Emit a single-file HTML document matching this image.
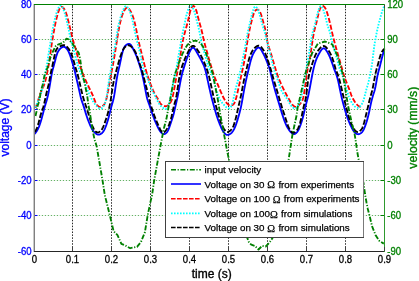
<!DOCTYPE html><html><head><meta charset="utf-8"><style>html,body{margin:0;padding:0;background:#fff;}svg{display:block}text{font-family:"Liberation Sans",Arial,sans-serif}</style></head><body>
<svg width="419" height="281" viewBox="0 0 419 281">
<rect x="0" y="0" width="419" height="281" fill="#fff"/>
<line x1="72.5" y1="5" x2="72.5" y2="251" stroke="#000" stroke-opacity="0.85" stroke-width="1" stroke-dasharray="1.5,1.43" stroke-dashoffset="-0.9"/><line x1="111.5" y1="5" x2="111.5" y2="251" stroke="#000" stroke-opacity="0.85" stroke-width="1" stroke-dasharray="1.5,1.43" stroke-dashoffset="-0.9"/><line x1="150.5" y1="5" x2="150.5" y2="251" stroke="#000" stroke-opacity="0.85" stroke-width="1" stroke-dasharray="1.5,1.43" stroke-dashoffset="-0.9"/><line x1="189.5" y1="5" x2="189.5" y2="251" stroke="#000" stroke-opacity="0.85" stroke-width="1" stroke-dasharray="1.5,1.43" stroke-dashoffset="-0.9"/><line x1="228.5" y1="5" x2="228.5" y2="251" stroke="#000" stroke-opacity="0.85" stroke-width="1" stroke-dasharray="1.5,1.43" stroke-dashoffset="-0.9"/><line x1="267.5" y1="5" x2="267.5" y2="251" stroke="#000" stroke-opacity="0.85" stroke-width="1" stroke-dasharray="1.5,1.43" stroke-dashoffset="-0.9"/><line x1="306.5" y1="5" x2="306.5" y2="251" stroke="#000" stroke-opacity="0.85" stroke-width="1" stroke-dasharray="1.5,1.43" stroke-dashoffset="-0.9"/><line x1="345.5" y1="5" x2="345.5" y2="251" stroke="#000" stroke-opacity="0.85" stroke-width="1" stroke-dasharray="1.5,1.43" stroke-dashoffset="-0.9"/><line x1="35" y1="39.5" x2="384" y2="39.5" stroke="#008000" stroke-opacity="0.6" stroke-width="1.1" stroke-dasharray="1.3,1.7" stroke-dashoffset="-0.8"/><line x1="35" y1="74.5" x2="384" y2="74.5" stroke="#008000" stroke-opacity="0.6" stroke-width="1.1" stroke-dasharray="1.3,1.7" stroke-dashoffset="-0.8"/><line x1="35" y1="109.5" x2="384" y2="109.5" stroke="#008000" stroke-opacity="0.6" stroke-width="1.1" stroke-dasharray="1.3,1.7" stroke-dashoffset="-0.8"/><line x1="35" y1="145.5" x2="384" y2="145.5" stroke="#008000" stroke-opacity="0.6" stroke-width="1.1" stroke-dasharray="1.3,1.7" stroke-dashoffset="-0.8"/><line x1="35" y1="180.5" x2="384" y2="180.5" stroke="#008000" stroke-opacity="0.6" stroke-width="1.1" stroke-dasharray="1.3,1.7" stroke-dashoffset="-0.8"/><line x1="35" y1="215.5" x2="384" y2="215.5" stroke="#008000" stroke-opacity="0.6" stroke-width="1.1" stroke-dasharray="1.3,1.7" stroke-dashoffset="-0.8"/>
<g fill="none" stroke-linejoin="round">
<path d="M34.30,134.20 L34.80,133.68 L35.30,133.12 L35.80,132.49 L36.30,131.79 L36.80,131.01 L37.30,130.15 L37.80,129.22 L38.30,128.20 L38.80,127.07 L39.30,125.84 L39.80,124.48 L40.30,123.01 L40.80,121.43 L41.30,119.76 L41.80,117.99 L42.30,116.13 L42.80,114.19 L43.30,112.20 L43.80,110.23 L44.30,108.33 L44.80,106.54 L45.30,104.87 L45.80,103.27 L46.30,101.66 L46.80,99.96 L47.30,98.10 L47.80,96.04 L48.30,93.75 L48.80,91.20 L49.30,88.40 L49.80,85.41 L50.30,82.32 L50.80,79.24 L51.30,76.31 L51.80,73.64 L52.30,71.28 L52.80,69.23 L53.30,67.39 L53.80,65.64 L54.30,63.85 L54.80,61.98 L55.30,60.02 L55.80,58.08 L56.30,56.25 L56.80,54.62 L57.30,53.24 L57.80,52.10 L58.30,51.15 L58.80,50.36 L59.30,49.68 L59.80,49.09 L60.30,48.58 L60.80,48.12 L61.30,47.72 L61.80,47.37 L62.30,47.08 L62.80,46.88 L63.30,46.76 L63.80,46.76 L64.30,46.86 L64.80,47.08 L65.30,47.39 L65.80,47.79 L66.30,48.27 L66.80,48.82 L67.30,49.46 L67.80,50.21 L68.30,51.10 L68.80,52.12 L69.30,53.27 L69.80,54.56 L70.30,55.96 L70.80,57.46 L71.30,59.07 L71.80,60.73 L72.30,62.41 L72.80,64.06 L73.30,65.70 L73.80,67.38 L74.30,69.20 L74.80,71.20 L75.30,73.35 L75.80,75.57 L76.30,77.75 L76.80,79.87 L77.30,81.95 L77.80,84.04 L78.30,86.20 L78.80,88.44 L79.30,90.76 L79.80,93.11 L80.30,95.37 L80.80,97.46 L81.30,99.30 L81.80,100.91 L82.30,102.35 L82.80,103.72 L83.30,105.13 L83.80,106.64 L84.30,108.27 L84.80,109.97 L85.30,111.69 L85.80,113.38 L86.30,115.00 L86.80,116.55 L87.30,118.02 L87.80,119.42 L88.30,120.76 L88.80,122.03 L89.30,123.25 L89.80,124.41 L90.30,125.53 L90.80,126.61 L91.30,127.64 L91.80,128.62 L92.30,129.53 L92.80,130.34 L93.30,131.04 L93.80,131.66 L94.30,132.19 L94.80,132.67 L95.30,133.10 L95.80,133.48 L96.30,133.83 L96.80,134.12 L97.30,134.35 L97.80,134.52 L98.30,134.61 L98.80,134.63 L99.30,134.57 L99.80,134.43 L100.30,134.21 L100.80,133.93 L101.30,133.60 L101.80,133.20 L102.30,132.74 L102.80,132.20 L103.30,131.56 L103.80,130.79 L104.30,129.88 L104.80,128.84 L105.30,127.68 L105.80,126.42 L106.30,125.07 L106.80,123.62 L107.30,122.08 L107.80,120.43 L108.30,118.68 L108.80,116.83 L109.30,114.90 L109.80,112.90 L110.30,110.87 L110.80,108.87 L111.30,106.97 L111.80,105.19 L112.30,103.49 L112.80,101.76 L113.30,99.84 L113.80,97.59 L114.30,94.94 L114.80,91.91 L115.30,88.61 L115.80,85.19 L116.30,81.84 L116.80,78.71 L117.30,75.88 L117.80,73.35 L118.30,71.06 L118.80,68.89 L119.30,66.72 L119.80,64.48 L120.30,62.14 L120.80,59.75 L121.30,57.38 L121.80,55.11 L122.30,53.03 L122.80,51.16 L123.30,49.56 L123.80,48.24 L124.30,47.20 L124.80,46.40 L125.30,45.79 L125.80,45.30 L126.30,44.90 L126.80,44.56 L127.30,44.28 L127.80,44.06 L128.30,43.91 L128.80,43.84 L129.30,43.88 L129.80,44.06 L130.30,44.40 L130.80,44.91 L131.30,45.57 L131.80,46.37 L132.30,47.27 L132.80,48.23 L133.30,49.24 L133.80,50.27 L134.30,51.31 L134.80,52.36 L135.30,53.45 L135.80,54.58 L136.30,55.76 L136.80,57.01 L137.30,58.33 L137.80,59.73 L138.30,61.19 L138.80,62.71 L139.30,64.25 L139.80,65.81 L140.30,67.38 L140.80,69.03 L141.30,70.79 L141.80,72.69 L142.30,74.76 L142.80,76.96 L143.30,79.27 L143.80,81.68 L144.30,84.18 L144.80,86.75 L145.30,89.38 L145.80,92.04 L146.30,94.60 L146.80,96.94 L147.30,98.93 L147.80,100.57 L148.30,101.97 L148.80,103.30 L149.30,104.67 L149.80,106.13 L150.30,107.66 L150.80,109.22 L151.30,110.75 L151.80,112.24 L152.30,113.69 L152.80,115.09 L153.30,116.46 L153.80,117.79 L154.30,119.09 L154.80,120.36 L155.30,121.58 L155.80,122.76 L156.30,123.89 L156.80,124.99 L157.30,126.06 L157.80,127.09 L158.30,128.08 L158.80,129.02 L159.30,129.90 L159.80,130.70 L160.30,131.42 L160.80,132.07 L161.30,132.64 L161.80,133.14 L162.30,133.56 L162.80,133.87 L163.30,134.06 L163.80,134.13 L164.30,134.08 L164.80,133.92 L165.30,133.66 L165.80,133.32 L166.30,132.89 L166.80,132.36 L167.30,131.70 L167.80,130.86 L168.30,129.84 L168.80,128.65 L169.30,127.32 L169.80,125.90 L170.30,124.44 L170.80,122.98 L171.30,121.51 L171.80,120.05 L172.30,118.54 L172.80,116.96 L173.30,115.26 L173.80,113.39 L174.30,111.35 L174.80,109.16 L175.30,106.92 L175.80,104.71 L176.30,102.56 L176.80,100.41 L177.30,98.17 L177.80,95.78 L178.30,93.21 L178.80,90.49 L179.30,87.69 L179.80,84.88 L180.30,82.15 L180.80,79.57 L181.30,77.19 L181.80,75.04 L182.30,73.10 L182.80,71.31 L183.30,69.63 L183.80,67.98 L184.30,66.36 L184.80,64.76 L185.30,63.18 L185.80,61.65 L186.30,60.17 L186.80,58.75 L187.30,57.42 L187.80,56.15 L188.30,54.94 L188.80,53.76 L189.30,52.63 L189.80,51.55 L190.30,50.54 L190.80,49.63 L191.30,48.87 L191.80,48.27 L192.30,47.87 L192.80,47.69 L193.30,47.72 L193.80,47.97 L194.30,48.40 L194.80,48.99 L195.30,49.70 L195.80,50.51 L196.30,51.37 L196.80,52.25 L197.30,53.14 L197.80,54.02 L198.30,54.88 L198.80,55.74 L199.30,56.61 L199.80,57.50 L200.30,58.40 L200.80,59.32 L201.30,60.27 L201.80,61.23 L202.30,62.21 L202.80,63.22 L203.30,64.26 L203.80,65.39 L204.30,66.66 L204.80,68.14 L205.30,69.88 L205.80,71.87 L206.30,74.03 L206.80,76.30 L207.30,78.59 L207.80,80.89 L208.30,83.17 L208.80,85.44 L209.30,87.69 L209.80,89.90 L210.30,92.07 L210.80,94.20 L211.30,96.27 L211.80,98.28 L212.30,100.22 L212.80,102.10 L213.30,103.94 L213.80,105.75 L214.30,107.55 L214.80,109.33 L215.30,111.07 L215.80,112.75 L216.30,114.38 L216.80,115.95 L217.30,117.47 L217.80,118.93 L218.30,120.35 L218.80,121.71 L219.30,123.03 L219.80,124.29 L220.30,125.52 L220.80,126.70 L221.30,127.83 L221.80,128.90 L222.30,129.89 L222.80,130.79 L223.30,131.59 L223.80,132.29 L224.30,132.91 L224.80,133.45 L225.30,133.92 L225.80,134.31 L226.30,134.61 L226.80,134.80 L227.30,134.89 L227.80,134.88 L228.30,134.78 L228.80,134.62 L229.30,134.39 L229.80,134.12 L230.30,133.80 L230.80,133.44 L231.30,133.03 L231.80,132.54 L232.30,131.97 L232.80,131.30 L233.30,130.53 L233.80,129.66 L234.30,128.70 L234.80,127.64 L235.30,126.47 L235.80,125.19 L236.30,123.77 L236.80,122.24 L237.30,120.62 L237.80,118.93 L238.30,117.21 L238.80,115.45 L239.30,113.66 L239.80,111.80 L240.30,109.83 L240.80,107.68 L241.30,105.32 L241.80,102.75 L242.30,100.03 L242.80,97.22 L243.30,94.41 L243.80,91.64 L244.30,88.94 L244.80,86.32 L245.30,83.78 L245.80,81.36 L246.30,79.05 L246.80,76.86 L247.30,74.77 L247.80,72.73 L248.30,70.65 L248.80,68.50 L249.30,66.31 L249.80,64.17 L250.30,62.15 L250.80,60.32 L251.30,58.67 L251.80,57.19 L252.30,55.87 L252.80,54.70 L253.30,53.65 L253.80,52.70 L254.30,51.84 L254.80,51.04 L255.30,50.29 L255.80,49.61 L256.30,48.99 L256.80,48.46 L257.30,48.04 L257.80,47.74 L258.30,47.58 L258.80,47.58 L259.30,47.76 L259.80,48.10 L260.30,48.61 L260.80,49.26 L261.30,50.02 L261.80,50.87 L262.30,51.77 L262.80,52.71 L263.30,53.67 L263.80,54.65 L264.30,55.66 L264.80,56.72 L265.30,57.82 L265.80,58.98 L266.30,60.17 L266.80,61.39 L267.30,62.63 L267.80,63.88 L268.30,65.16 L268.80,66.51 L269.30,67.98 L269.80,69.64 L270.30,71.50 L270.80,73.53 L271.30,75.65 L271.80,77.77 L272.30,79.85 L272.80,81.87 L273.30,83.82 L273.80,85.72 L274.30,87.57 L274.80,89.38 L275.30,91.15 L275.80,92.89 L276.30,94.61 L276.80,96.30 L277.30,97.97 L277.80,99.62 L278.30,101.25 L278.80,102.87 L279.30,104.49 L279.80,106.14 L280.30,107.81 L280.80,109.50 L281.30,111.20 L281.80,112.86 L282.30,114.48 L282.80,116.04 L283.30,117.55 L283.80,119.00 L284.30,120.39 L284.80,121.72 L285.30,122.98 L285.80,124.14 L286.30,125.23 L286.80,126.23 L287.30,127.17 L287.80,128.04 L288.30,128.85 L288.80,129.61 L289.30,130.32 L289.80,130.97 L290.30,131.58 L290.80,132.14 L291.30,132.65 L291.80,133.12 L292.30,133.52 L292.80,133.84 L293.30,134.04 L293.80,134.12 L294.30,134.08 L294.80,133.93 L295.30,133.67 L295.80,133.34 L296.30,132.92 L296.80,132.42 L297.30,131.83 L297.80,131.11 L298.30,130.26 L298.80,129.27 L299.30,128.16 L299.80,126.94 L300.30,125.64 L300.80,124.25 L301.30,122.79 L301.80,121.22 L302.30,119.55 L302.80,117.76 L303.30,115.83 L303.80,113.75 L304.30,111.56 L304.80,109.30 L305.30,107.10 L305.80,105.04 L306.30,103.14 L306.80,101.34 L307.30,99.52 L307.80,97.57 L308.30,95.44 L308.80,93.12 L309.30,90.63 L309.80,88.02 L310.30,85.33 L310.80,82.62 L311.30,79.92 L311.80,77.26 L312.30,74.67 L312.80,72.18 L313.30,69.82 L313.80,67.62 L314.30,65.60 L314.80,63.78 L315.30,62.16 L315.80,60.69 L316.30,59.37 L316.80,58.15 L317.30,57.03 L317.80,55.99 L318.30,55.02 L318.80,54.10 L319.30,53.21 L319.80,52.35 L320.30,51.53 L320.80,50.75 L321.30,50.04 L321.80,49.42 L322.30,48.91 L322.80,48.54 L323.30,48.32 L323.80,48.28 L324.30,48.40 L324.80,48.69 L325.30,49.13 L325.80,49.70 L326.30,50.38 L326.80,51.14 L327.30,51.97 L327.80,52.84 L328.30,53.75 L328.80,54.72 L329.30,55.76 L329.80,56.87 L330.30,58.07 L330.80,59.34 L331.30,60.68 L331.80,62.09 L332.30,63.54 L332.80,65.03 L333.30,66.53 L333.80,67.99 L334.30,69.37 L334.80,70.66 L335.30,71.88 L335.80,73.11 L336.30,74.43 L336.80,75.92 L337.30,77.62 L337.80,79.53 L338.30,81.65 L338.80,83.92 L339.30,86.30 L339.80,88.73 L340.30,91.17 L340.80,93.56 L341.30,95.86 L341.80,98.04 L342.30,100.10 L342.80,102.05 L343.30,103.92 L343.80,105.76 L344.30,107.56 L344.80,109.33 L345.30,111.06 L345.80,112.71 L346.30,114.30 L346.80,115.81 L347.30,117.26 L347.80,118.65 L348.30,119.98 L348.80,121.25 L349.30,122.48 L349.80,123.65 L350.30,124.78 L350.80,125.88 L351.30,126.94 L351.80,127.96 L352.30,128.92 L352.80,129.81 L353.30,130.61 L353.80,131.32 L354.30,131.93 L354.80,132.45 L355.30,132.91 L355.80,133.31 L356.30,133.64 L356.80,133.91 L357.30,134.09 L357.80,134.20 L358.30,134.21 L358.80,134.15 L359.30,134.01 L359.80,133.80 L360.30,133.53 L360.80,133.21 L361.30,132.83 L361.80,132.37 L362.30,131.81 L362.80,131.12 L363.30,130.29 L363.80,129.31 L364.30,128.19 L364.80,126.96 L365.30,125.64 L365.80,124.24 L366.30,122.74 L366.80,121.14 L367.30,119.43 L367.80,117.59 L368.30,115.61 L368.80,113.48 L369.30,111.20 L369.80,108.81 L370.30,106.39 L370.80,104.02 L371.30,101.79 L371.80,99.75 L372.30,97.89 L372.80,96.19 L373.30,94.59 L373.80,93.03 L374.30,91.42 L374.80,89.65 L375.30,87.57 L375.80,85.11 L376.30,82.30 L376.80,79.35 L377.30,76.57 L377.80,74.17 L378.30,72.16 L378.80,70.36 L379.30,68.57 L379.80,66.67 L380.30,64.65 L380.80,62.58 L381.30,60.53 L381.80,58.53 L382.30,56.60 L382.80,54.75 L383.30,52.98 L383.80,51.26 L384.20,49.90" stroke="#0000ff" stroke-width="1.85"/>
<path d="M35.30,107.90 L35.80,106.95 L36.30,105.89 L36.80,104.64 L37.30,103.19 L37.80,101.58 L38.30,99.90 L38.80,98.26 L39.30,96.71 L39.80,95.26 L40.30,93.90 L40.80,92.61 L41.30,91.37 L41.80,90.19 L42.30,89.04 L42.80,87.92 L43.30,86.79 L43.80,85.59 L44.30,84.25 L44.80,82.71 L45.30,80.94 L45.80,78.95 L46.30,76.79 L46.80,74.51 L47.30,72.13 L47.80,69.62 L48.30,66.94 L48.80,64.04 L49.30,60.88 L49.80,57.51 L50.30,53.97 L50.80,50.37 L51.30,46.83 L51.80,43.45 L52.30,40.29 L52.80,37.34 L53.30,34.51 L53.80,31.73 L54.30,28.99 L54.80,26.34 L55.30,23.83 L55.80,21.50 L56.30,19.35 L56.80,17.36 L57.30,15.50 L57.80,13.76 L58.30,12.14 L58.80,10.69 L59.30,9.45 L59.80,8.45 L60.30,7.70 L60.80,7.19 L61.30,6.93 L61.80,6.88 L62.30,7.03 L62.80,7.36 L63.30,7.83 L63.80,8.43 L64.30,9.15 L64.80,10.02 L65.30,11.05 L65.80,12.27 L66.30,13.70 L66.80,15.32 L67.30,17.12 L67.80,19.03 L68.30,21.00 L68.80,22.98 L69.30,24.98 L69.80,27.01 L70.30,29.11 L70.80,31.28 L71.30,33.50 L71.80,35.68 L72.30,37.75 L72.80,39.65 L73.30,41.37 L73.80,42.96 L74.30,44.49 L74.80,46.03 L75.30,47.64 L75.80,49.35 L76.30,51.18 L76.80,53.11 L77.30,55.11 L77.80,57.14 L78.30,59.16 L78.80,61.11 L79.30,62.97 L79.80,64.72 L80.30,66.36 L80.80,67.92 L81.30,69.42 L81.80,70.88 L82.30,72.31 L82.80,73.69 L83.30,75.00 L83.80,76.26 L84.30,77.45 L84.80,78.59 L85.30,79.69 L85.80,80.76 L86.30,81.82 L86.80,82.86 L87.30,83.91 L87.80,84.95 L88.30,86.00 L88.80,87.04 L89.30,88.07 L89.80,89.10 L90.30,90.13 L90.80,91.16 L91.30,92.19 L91.80,93.25 L92.30,94.34 L92.80,95.48 L93.30,96.68 L93.80,97.95 L94.30,99.28 L94.80,100.61 L95.30,101.88 L95.80,103.00 L96.30,103.95 L96.80,104.72 L97.30,105.34 L97.80,105.84 L98.30,106.25 L98.80,106.58 L99.30,106.81 L99.80,106.95 L100.30,106.99 L100.80,106.93 L101.30,106.78 L101.80,106.55 L102.30,106.24 L102.80,105.86 L103.30,105.40 L103.80,104.86 L104.30,104.20 L104.80,103.37 L105.30,102.32 L105.80,100.99 L106.30,99.34 L106.80,97.38 L107.30,95.13 L107.80,92.64 L108.30,89.95 L108.80,87.11 L109.30,84.18 L109.80,81.22 L110.30,78.33 L110.80,75.58 L111.30,72.99 L111.80,70.51 L112.30,68.06 L112.80,65.53 L113.30,62.86 L113.80,60.04 L114.30,57.08 L114.80,54.01 L115.30,50.88 L115.80,47.70 L116.30,44.50 L116.80,41.31 L117.30,38.16 L117.80,35.07 L118.30,32.10 L118.80,29.29 L119.30,26.67 L119.80,24.25 L120.30,22.04 L120.80,20.03 L121.30,18.18 L121.80,16.49 L122.30,14.96 L122.80,13.60 L123.30,12.41 L123.80,11.36 L124.30,10.45 L124.80,9.64 L125.30,8.94 L125.80,8.37 L126.30,7.95 L126.80,7.70 L127.30,7.65 L127.80,7.79 L128.30,8.12 L128.80,8.61 L129.30,9.24 L129.80,9.96 L130.30,10.77 L130.80,11.65 L131.30,12.62 L131.80,13.70 L132.30,14.89 L132.80,16.21 L133.30,17.68 L133.80,19.31 L134.30,21.12 L134.80,23.10 L135.30,25.24 L135.80,27.53 L136.30,29.93 L136.80,32.41 L137.30,34.92 L137.80,37.39 L138.30,39.78 L138.80,42.06 L139.30,44.23 L139.80,46.30 L140.30,48.32 L140.80,50.31 L141.30,52.28 L141.80,54.26 L142.30,56.25 L142.80,58.26 L143.30,60.27 L143.80,62.26 L144.30,64.23 L144.80,66.15 L145.30,68.01 L145.80,69.81 L146.30,71.53 L146.80,73.20 L147.30,74.81 L147.80,76.38 L148.30,77.89 L148.80,79.36 L149.30,80.79 L149.80,82.18 L150.30,83.54 L150.80,84.86 L151.30,86.14 L151.80,87.40 L152.30,88.61 L152.80,89.79 L153.30,90.91 L153.80,91.98 L154.30,92.98 L154.80,93.92 L155.30,94.79 L155.80,95.61 L156.30,96.40 L156.80,97.17 L157.30,97.95 L157.80,98.78 L158.30,99.67 L158.80,100.61 L159.30,101.56 L159.80,102.46 L160.30,103.24 L160.80,103.89 L161.30,104.40 L161.80,104.81 L162.30,105.16 L162.80,105.46 L163.30,105.71 L163.80,105.92 L164.30,106.08 L164.80,106.20 L165.30,106.25 L165.80,106.25 L166.30,106.17 L166.80,106.01 L167.30,105.77 L167.80,105.44 L168.30,105.03 L168.80,104.55 L169.30,104.00 L169.80,103.37 L170.30,102.67 L170.80,101.85 L171.30,100.85 L171.80,99.62 L172.30,98.06 L172.80,96.15 L173.30,93.91 L173.80,91.37 L174.30,88.64 L174.80,85.79 L175.30,82.92 L175.80,80.11 L176.30,77.42 L176.80,74.87 L177.30,72.41 L177.80,69.96 L178.30,67.39 L178.80,64.65 L179.30,61.71 L179.80,58.62 L180.30,55.47 L180.80,52.33 L181.30,49.26 L181.80,46.33 L182.30,43.57 L182.80,41.02 L183.30,38.68 L183.80,36.54 L184.30,34.55 L184.80,32.66 L185.30,30.83 L185.80,29.04 L186.30,27.24 L186.80,25.42 L187.30,23.51 L187.80,21.50 L188.30,19.35 L188.80,17.12 L189.30,14.88 L189.80,12.77 L190.30,10.90 L190.80,9.34 L191.30,8.11 L191.80,7.17 L192.30,6.51 L192.80,6.12 L193.30,6.01 L193.80,6.16 L194.30,6.57 L194.80,7.21 L195.30,8.09 L195.80,9.22 L196.30,10.63 L196.80,12.30 L197.30,14.18 L197.80,16.18 L198.30,18.19 L198.80,20.13 L199.30,21.98 L199.80,23.74 L200.30,25.48 L200.80,27.26 L201.30,29.14 L201.80,31.16 L202.30,33.33 L202.80,35.58 L203.30,37.85 L203.80,40.05 L204.30,42.14 L204.80,44.11 L205.30,45.98 L205.80,47.79 L206.30,49.56 L206.80,51.33 L207.30,53.10 L207.80,54.88 L208.30,56.65 L208.80,58.42 L209.30,60.17 L209.80,61.89 L210.30,63.58 L210.80,65.23 L211.30,66.86 L211.80,68.48 L212.30,70.11 L212.80,71.73 L213.30,73.31 L213.80,74.83 L214.30,76.27 L214.80,77.61 L215.30,78.88 L215.80,80.10 L216.30,81.27 L216.80,82.42 L217.30,83.55 L217.80,84.70 L218.30,85.85 L218.80,87.02 L219.30,88.21 L219.80,89.41 L220.30,90.61 L220.80,91.79 L221.30,92.96 L221.80,94.09 L222.30,95.18 L222.80,96.23 L223.30,97.24 L223.80,98.22 L224.30,99.17 L224.80,100.08 L225.30,100.94 L225.80,101.74 L226.30,102.46 L226.80,103.11 L227.30,103.68 L227.80,104.18 L228.30,104.62 L228.80,104.98 L229.30,105.25 L229.80,105.43 L230.30,105.51 L230.80,105.50 L231.30,105.42 L231.80,105.26 L232.30,105.05 L232.80,104.77 L233.30,104.40 L233.80,103.89 L234.30,103.20 L234.80,102.23 L235.30,100.96 L235.80,99.37 L236.30,97.52 L236.80,95.46 L237.30,93.29 L237.80,91.08 L238.30,88.87 L238.80,86.66 L239.30,84.44 L239.80,82.21 L240.30,79.96 L240.80,77.67 L241.30,75.35 L241.80,73.03 L242.30,70.75 L242.80,68.50 L243.30,66.24 L243.80,63.86 L244.30,61.28 L244.80,58.43 L245.30,55.35 L245.80,52.10 L246.30,48.77 L246.80,45.45 L247.30,42.21 L247.80,39.12 L248.30,36.20 L248.80,33.48 L249.30,30.96 L249.80,28.62 L250.30,26.42 L250.80,24.32 L251.30,22.28 L251.80,20.29 L252.30,18.35 L252.80,16.52 L253.30,14.86 L253.80,13.43 L254.30,12.28 L254.80,11.38 L255.30,10.71 L255.80,10.21 L256.30,9.87 L256.80,9.67 L257.30,9.62 L257.80,9.71 L258.30,9.94 L258.80,10.32 L259.30,10.85 L259.80,11.57 L260.30,12.52 L260.80,13.74 L261.30,15.23 L261.80,16.91 L262.30,18.69 L262.80,20.47 L263.30,22.20 L263.80,23.89 L264.30,25.62 L264.80,27.54 L265.30,29.79 L265.80,32.43 L266.30,35.38 L266.80,38.38 L267.30,41.15 L267.80,43.52 L268.30,45.48 L268.80,47.15 L269.30,48.65 L269.80,50.11 L270.30,51.60 L270.80,53.16 L271.30,54.78 L271.80,56.45 L272.30,58.15 L272.80,59.86 L273.30,61.57 L273.80,63.28 L274.30,64.97 L274.80,66.65 L275.30,68.32 L275.80,69.96 L276.30,71.56 L276.80,73.11 L277.30,74.60 L277.80,76.01 L278.30,77.35 L278.80,78.63 L279.30,79.87 L279.80,81.07 L280.30,82.23 L280.80,83.36 L281.30,84.46 L281.80,85.55 L282.30,86.61 L282.80,87.66 L283.30,88.68 L283.80,89.69 L284.30,90.67 L284.80,91.64 L285.30,92.59 L285.80,93.52 L286.30,94.44 L286.80,95.35 L287.30,96.26 L287.80,97.15 L288.30,98.05 L288.80,98.95 L289.30,99.87 L289.80,100.78 L290.30,101.68 L290.80,102.54 L291.30,103.33 L291.80,104.02 L292.30,104.62 L292.80,105.13 L293.30,105.57 L293.80,105.96 L294.30,106.30 L294.80,106.58 L295.30,106.79 L295.80,106.92 L296.30,106.94 L296.80,106.84 L297.30,106.61 L297.80,106.26 L298.30,105.80 L298.80,105.26 L299.30,104.69 L299.80,104.11 L300.30,103.54 L300.80,102.96 L301.30,102.33 L301.80,101.60 L302.30,100.64 L302.80,99.31 L303.30,97.47 L303.80,95.02 L304.30,91.98 L304.80,88.47 L305.30,84.72 L305.80,80.95 L306.30,77.37 L306.80,74.09 L307.30,71.13 L307.80,68.45 L308.30,65.94 L308.80,63.48 L309.30,60.94 L309.80,58.22 L310.30,55.29 L310.80,52.15 L311.30,48.86 L311.80,45.50 L312.30,42.14 L312.80,38.88 L313.30,35.83 L313.80,33.10 L314.30,30.72 L314.80,28.66 L315.30,26.80 L315.80,25.01 L316.30,23.15 L316.80,21.15 L317.30,19.01 L317.80,16.81 L318.30,14.66 L318.80,12.68 L319.30,10.94 L319.80,9.48 L320.30,8.27 L320.80,7.31 L321.30,6.59 L321.80,6.11 L322.30,5.88 L322.80,5.87 L323.30,6.05 L323.80,6.39 L324.30,6.86 L324.80,7.46 L325.30,8.22 L325.80,9.17 L326.30,10.35 L326.80,11.75 L327.30,13.34 L327.80,15.04 L328.30,16.80 L328.80,18.60 L329.30,20.45 L329.80,22.40 L330.30,24.47 L330.80,26.65 L331.30,28.90 L331.80,31.15 L332.30,33.35 L332.80,35.47 L333.30,37.52 L333.80,39.51 L334.30,41.44 L334.80,43.32 L335.30,45.16 L335.80,46.97 L336.30,48.76 L336.80,50.53 L337.30,52.28 L337.80,54.02 L338.30,55.75 L338.80,57.48 L339.30,59.20 L339.80,60.92 L340.30,62.66 L340.80,64.42 L341.30,66.21 L341.80,68.02 L342.30,69.82 L342.80,71.59 L343.30,73.29 L343.80,74.92 L344.30,76.45 L344.80,77.91 L345.30,79.30 L345.80,80.63 L346.30,81.92 L346.80,83.18 L347.30,84.41 L347.80,85.61 L348.30,86.83 L348.80,88.09 L349.30,89.42 L349.80,90.82 L350.30,92.27 L350.80,93.70 L351.30,95.05 L351.80,96.27 L352.30,97.37 L352.80,98.36 L353.30,99.28 L353.80,100.17 L354.30,101.02 L354.80,101.83 L355.30,102.58 L355.80,103.26 L356.30,103.88 L356.80,104.43 L357.30,104.93 L357.80,105.37 L358.30,105.75 L358.80,106.08 L359.30,106.35 L359.80,106.57 L360.30,106.76 L360.80,106.91 L361.10,107.00" stroke="#ff0000" stroke-width="1.85" stroke-dasharray="5,2"/>
<path d="M35.50,107.50 L36.00,106.09 L36.50,104.73 L37.00,103.43 L37.50,102.23 L38.00,101.09 L38.50,99.99 L39.00,98.88 L39.50,97.70 L40.00,96.43 L40.50,95.03 L41.00,93.49 L41.50,91.78 L42.00,89.84 L42.50,87.67 L43.00,85.28 L43.50,82.73 L44.00,80.07 L44.50,77.39 L45.00,74.72 L45.50,72.08 L46.00,69.42 L46.50,66.71 L47.00,63.87 L47.50,60.90 L48.00,57.80 L48.50,54.63 L49.00,51.45 L49.50,48.31 L50.00,45.22 L50.50,42.14 L51.00,39.06 L51.50,35.99 L52.00,33.00 L52.50,30.17 L53.00,27.53 L53.50,25.08 L54.00,22.77 L54.50,20.57 L55.00,18.47 L55.50,16.49 L56.00,14.67 L56.50,13.01 L57.00,11.51 L57.50,10.16 L58.00,8.95 L58.50,7.87 L59.00,6.96 L59.50,6.26 L60.00,5.80 L60.50,5.60 L61.00,5.67 L61.50,5.99 L62.00,6.53 L62.50,7.29 L63.00,8.26 L63.50,9.44 L64.00,10.84 L64.50,12.42 L65.00,14.13 L65.50,15.96 L66.00,17.89 L66.50,19.89 L67.00,21.98 L67.50,24.16 L68.00,26.42 L68.50,28.76 L69.00,31.18 L69.50,33.60 L70.00,35.96 L70.50,38.18 L71.00,40.24 L71.50,42.15 L72.00,43.94 L72.50,45.70 L73.00,47.47 L73.50,49.29 L74.00,51.17 L74.50,53.08 L75.00,55.01 L75.50,56.93 L76.00,58.82 L76.50,60.66 L77.00,62.44 L77.50,64.15 L78.00,65.77 L78.50,67.30 L79.00,68.74 L79.50,70.09 L80.00,71.37 L80.50,72.60 L81.00,73.79 L81.50,74.96 L82.00,76.13 L82.50,77.29 L83.00,78.46 L83.50,79.64 L84.00,80.84 L84.50,82.06 L85.00,83.32 L85.50,84.60 L86.00,85.91 L86.50,87.22 L87.00,88.54 L87.50,89.84 L88.00,91.11 L88.50,92.34 L89.00,93.52 L89.50,94.63 L90.00,95.70 L90.50,96.71 L91.00,97.68 L91.50,98.61 L92.00,99.52 L92.50,100.39 L93.00,101.22 L93.50,102.01 L94.00,102.76 L94.50,103.45 L95.00,104.10 L95.50,104.70 L96.00,105.26 L96.50,105.80 L97.00,106.31 L97.50,106.79 L98.00,107.25 L98.50,107.66 L99.00,108.02 L99.50,108.31 L100.00,108.52 L100.50,108.62 L101.00,108.60 L101.50,108.44 L102.00,108.13 L102.50,107.66 L103.00,107.05 L103.50,106.29 L104.00,105.40 L104.50,104.34 L105.00,103.09 L105.50,101.57 L106.00,99.66 L106.50,97.27 L107.00,94.38 L107.50,91.05 L108.00,87.49 L108.50,83.92 L109.00,80.55 L109.50,77.45 L110.00,74.58 L110.50,71.82 L111.00,69.07 L111.50,66.25 L112.00,63.35 L112.50,60.38 L113.00,57.40 L113.50,54.46 L114.00,51.60 L114.50,48.81 L115.00,46.06 L115.50,43.25 L116.00,40.30 L116.50,37.16 L117.00,33.92 L117.50,30.76 L118.00,27.87 L118.50,25.33 L119.00,23.09 L119.50,21.08 L120.00,19.24 L120.50,17.53 L121.00,15.94 L121.50,14.44 L122.00,13.03 L122.50,11.68 L123.00,10.41 L123.50,9.24 L124.00,8.20 L124.50,7.35 L125.00,6.73 L125.50,6.35 L126.00,6.24 L126.50,6.36 L127.00,6.71 L127.50,7.24 L128.00,7.92 L128.50,8.72 L129.00,9.64 L129.50,10.67 L130.00,11.83 L130.50,13.15 L131.00,14.66 L131.50,16.38 L132.00,18.31 L132.50,20.42 L133.00,22.70 L133.50,25.11 L134.00,27.57 L134.50,30.01 L135.00,32.35 L135.50,34.56 L136.00,36.67 L136.50,38.72 L137.00,40.74 L137.50,42.75 L138.00,44.78 L138.50,46.82 L139.00,48.90 L139.50,51.03 L140.00,53.24 L140.50,55.54 L141.00,57.92 L141.50,60.31 L142.00,62.67 L142.50,64.91 L143.00,66.95 L143.50,68.76 L144.00,70.31 L144.50,71.66 L145.00,72.87 L145.50,74.00 L146.00,75.14 L146.50,76.31 L147.00,77.52 L147.50,78.77 L148.00,80.06 L148.50,81.36 L149.00,82.67 L149.50,83.97 L150.00,85.25 L150.50,86.49 L151.00,87.69 L151.50,88.84 L152.00,89.94 L152.50,90.99 L153.00,92.00 L153.50,92.98 L154.00,93.93 L154.50,94.86 L155.00,95.80 L155.50,96.74 L156.00,97.70 L156.50,98.68 L157.00,99.70 L157.50,100.73 L158.00,101.74 L158.50,102.68 L159.00,103.53 L159.50,104.27 L160.00,104.92 L160.50,105.50 L161.00,106.04 L161.50,106.54 L162.00,107.00 L162.50,107.43 L163.00,107.82 L163.50,108.16 L164.00,108.46 L164.50,108.71 L165.00,108.89 L165.50,109.00 L166.00,108.97 L166.50,108.77 L167.00,108.33 L167.50,107.60 L168.00,106.57 L168.50,105.25 L169.00,103.66 L169.50,101.82 L170.00,99.72 L170.50,97.38 L171.00,94.85 L171.50,92.22 L172.00,89.59 L172.50,87.04 L173.00,84.63 L173.50,82.35 L174.00,80.16 L174.50,77.98 L175.00,75.72 L175.50,73.27 L176.00,70.62 L176.50,67.80 L177.00,64.87 L177.50,61.90 L178.00,58.92 L178.50,55.96 L179.00,53.04 L179.50,50.19 L180.00,47.42 L180.50,44.70 L181.00,41.96 L181.50,39.14 L182.00,36.29 L182.50,33.55 L183.00,31.04 L183.50,28.76 L184.00,26.56 L184.50,24.27 L185.00,21.87 L185.50,19.43 L186.00,17.10 L186.50,14.98 L187.00,13.11 L187.50,11.46 L188.00,10.00 L188.50,8.71 L189.00,7.60 L189.50,6.71 L190.00,6.08 L190.50,5.74 L191.00,5.70 L191.50,5.97 L192.00,6.52 L192.50,7.30 L193.00,8.29 L193.50,9.43 L194.00,10.73 L194.50,12.18 L195.00,13.81 L195.50,15.61 L196.00,17.56 L196.50,19.59 L197.00,21.62 L197.50,23.60 L198.00,25.51 L198.50,27.44 L199.00,29.54 L199.50,31.91 L200.00,34.56 L200.50,37.32 L201.00,39.99 L201.50,42.41 L202.00,44.54 L202.50,46.42 L203.00,48.15 L203.50,49.81 L204.00,51.45 L204.50,53.12 L205.00,54.83 L205.50,56.57 L206.00,58.33 L206.50,60.09 L207.00,61.85 L207.50,63.59 L208.00,65.29 L208.50,66.90 L209.00,68.38 L209.50,69.67 L210.00,70.77 L210.50,71.72 L211.00,72.61 L211.50,73.54 L212.00,74.59 L212.50,75.85 L213.00,77.35 L213.50,79.09 L214.00,81.02 L214.50,83.09 L215.00,85.20 L215.50,87.28 L216.00,89.26 L216.50,91.08 L217.00,92.71 L217.50,94.15 L218.00,95.44 L218.50,96.61 L219.00,97.69 L219.50,98.69 L220.00,99.62 L220.50,100.48 L221.00,101.28 L221.50,102.00 L222.00,102.67 L222.50,103.29 L223.00,103.87 L223.50,104.44 L224.00,104.98 L224.50,105.50 L225.00,106.00 L225.50,106.47 L226.00,106.90 L226.50,107.30 L227.00,107.64 L227.50,107.93 L228.00,108.15 L228.50,108.29 L229.00,108.32 L229.50,108.21 L230.00,107.92 L230.50,107.44 L231.00,106.73 L231.50,105.78 L232.00,104.52 L232.50,102.91 L233.00,100.94 L233.50,98.67 L234.00,96.27 L234.50,93.89 L235.00,91.66 L235.50,89.59 L236.00,87.65 L236.50,85.76 L237.00,83.86 L237.50,81.95 L238.00,80.01 L238.50,78.07 L239.00,76.15 L239.50,74.25 L240.00,72.33 L240.50,70.33 L241.00,68.18 L241.50,65.87 L242.00,63.40 L242.50,60.82 L243.00,58.16 L243.50,55.49 L244.00,52.82 L244.50,50.19 L245.00,47.58 L245.50,44.92 L246.00,42.16 L246.50,39.27 L247.00,36.36 L247.50,33.60 L248.00,31.12 L248.50,28.94 L249.00,26.90 L249.50,24.84 L250.00,22.68 L250.50,20.45 L251.00,18.24 L251.50,16.13 L252.00,14.14 L252.50,12.29 L253.00,10.60 L253.50,9.12 L254.00,7.92 L254.50,7.07 L255.00,6.60 L255.50,6.52 L256.00,6.78 L256.50,7.32 L257.00,8.08 L257.50,9.02 L258.00,10.10 L258.50,11.33 L259.00,12.71 L259.50,14.27 L260.00,15.99 L260.50,17.83 L261.00,19.72 L261.50,21.59 L262.00,23.37 L262.50,25.04 L263.00,26.62 L263.50,28.14 L264.00,29.71 L264.50,31.39 L265.00,33.24 L265.50,35.28 L266.00,37.44 L266.50,39.63 L267.00,41.75 L267.50,43.77 L268.00,45.69 L268.50,47.54 L269.00,49.37 L269.50,51.22 L270.00,53.09 L270.50,55.02 L271.00,56.99 L271.50,59.04 L272.00,61.18 L272.50,63.39 L273.00,65.62 L273.50,67.74 L274.00,69.65 L274.50,71.28 L275.00,72.69 L275.50,73.98 L276.00,75.25 L276.50,76.58 L277.00,77.98 L277.50,79.46 L278.00,80.99 L278.50,82.53 L279.00,84.06 L279.50,85.54 L280.00,86.95 L280.50,88.27 L281.00,89.47 L281.50,90.55 L282.00,91.53 L282.50,92.41 L283.00,93.21 L283.50,93.95 L284.00,94.65 L284.50,95.32 L285.00,95.97 L285.50,96.62 L286.00,97.29 L286.50,97.98 L287.00,98.71 L287.50,99.51 L288.00,100.36 L288.50,101.27 L289.00,102.21 L289.50,103.13 L290.00,103.99 L290.50,104.77 L291.00,105.45 L291.50,106.05 L292.00,106.60 L292.50,107.08 L293.00,107.50 L293.50,107.85 L294.00,108.12 L294.50,108.28 L295.00,108.33 L295.50,108.26 L296.00,108.05 L296.50,107.70 L297.00,107.21 L297.50,106.59 L298.00,105.85 L298.50,104.99 L299.00,104.02 L299.50,102.92 L300.00,101.64 L300.50,100.12 L301.00,98.29 L301.50,96.12 L302.00,93.63 L302.50,90.91 L303.00,88.05 L303.50,85.12 L304.00,82.17 L304.50,79.20 L305.00,76.26 L305.50,73.37 L306.00,70.54 L306.50,67.76 L307.00,65.00 L307.50,62.23 L308.00,59.43 L308.50,56.56 L309.00,53.63 L309.50,50.62 L310.00,47.53 L310.50,44.39 L311.00,41.24 L311.50,38.21 L312.00,35.43 L312.50,33.04 L313.00,31.06 L313.50,29.37 L314.00,27.78 L314.50,26.10 L315.00,24.20 L315.50,22.10 L316.00,19.87 L316.50,17.64 L317.00,15.51 L317.50,13.53 L318.00,11.72 L318.50,10.07 L319.00,8.62 L319.50,7.42 L320.00,6.54 L320.50,6.03 L321.00,5.93 L321.50,6.24 L322.00,6.90 L322.50,7.86 L323.00,9.05 L323.50,10.41 L324.00,11.91 L324.50,13.54 L325.00,15.31 L325.50,17.22 L326.00,19.23 L326.50,21.25 L327.00,23.21 L327.50,25.02 L328.00,26.65 L328.50,28.11 L329.00,29.52 L329.50,31.03 L330.00,32.77 L330.50,34.80 L331.00,37.04 L331.50,39.34 L332.00,41.53 L332.50,43.54 L333.00,45.39 L333.50,47.11 L334.00,48.77 L334.50,50.42 L335.00,52.10 L335.50,53.80 L336.00,55.54 L336.50,57.31 L337.00,59.11 L337.50,60.95 L338.00,62.82 L338.50,64.71 L339.00,66.56 L339.50,68.28 L340.00,69.80 L340.50,71.11 L341.00,72.25 L341.50,73.33 L342.00,74.46 L342.50,75.72 L343.00,77.15 L343.50,78.73 L344.00,80.45 L344.50,82.23 L345.00,84.03 L345.50,85.80 L346.00,87.53 L346.50,89.20 L347.00,90.82 L347.50,92.39 L348.00,93.91 L348.50,95.36 L349.00,96.73 L349.50,98.00 L350.00,99.17 L350.50,100.24 L351.00,101.24 L351.50,102.16 L352.00,103.01 L352.50,103.80 L353.00,104.51 L353.50,105.14 L354.00,105.70 L354.50,106.18 L355.00,106.59 L355.50,106.95 L356.00,107.26 L356.50,107.51 L357.00,107.67 L357.50,107.75 L358.00,107.72 L358.50,107.57 L359.00,107.31 L359.50,106.95 L360.00,106.49 L360.50,105.95 L361.00,105.32 L361.50,104.59 L362.00,103.75 L362.50,102.76 L363.00,101.60 L363.50,100.25 L364.00,98.65 L364.50,96.83 L365.00,94.83 L365.50,92.79 L366.00,90.84 L366.50,89.06 L367.00,87.41 L367.50,85.78 L368.00,84.03 L368.50,82.08 L369.00,79.91 L369.50,77.60 L370.00,75.22 L370.50,72.80 L371.00,70.27 L371.50,67.49 L372.00,64.27 L372.50,60.52 L373.00,56.37 L373.50,52.16 L374.00,48.22 L374.50,44.75 L375.00,41.70 L375.50,38.91 L376.00,36.26 L376.50,33.69 L377.00,31.22 L377.50,28.87 L378.00,26.68 L378.50,24.64 L379.00,22.71 L379.50,20.84 L380.00,18.96 L380.50,17.08 L381.00,15.23 L381.50,13.48 L382.00,11.87 L382.50,10.41 L383.00,9.05 L383.50,7.76 L384.00,6.50 L384.40,5.50" stroke="#00ffff" stroke-width="1.85" stroke-dasharray="1.6,1.4"/>
<path d="M35.00,132.00 L35.50,130.98 L36.00,129.92 L36.50,128.78 L37.00,127.55 L37.50,126.20 L38.00,124.73 L38.50,123.11 L39.00,121.35 L39.50,119.46 L40.00,117.49 L40.50,115.55 L41.00,113.72 L41.50,112.05 L42.00,110.56 L42.50,109.16 L43.00,107.74 L43.50,106.16 L44.00,104.33 L44.50,102.24 L45.00,99.95 L45.50,97.59 L46.00,95.27 L46.50,93.07 L47.00,91.01 L47.50,89.06 L48.00,87.08 L48.50,84.95 L49.00,82.57 L49.50,79.96 L50.00,77.24 L50.50,74.55 L51.00,72.00 L51.50,69.64 L52.00,67.41 L52.50,65.21 L53.00,62.94 L53.50,60.56 L54.00,58.11 L54.50,55.74 L55.00,53.60 L55.50,51.82 L56.00,50.44 L56.50,49.40 L57.00,48.63 L57.50,48.03 L58.00,47.55 L58.50,47.14 L59.00,46.80 L59.50,46.51 L60.00,46.25 L60.50,46.03 L61.00,45.82 L61.50,45.64 L62.00,45.48 L62.50,45.34 L63.00,45.23 L63.50,45.16 L64.00,45.14 L64.50,45.20 L65.00,45.34 L65.50,45.58 L66.00,45.91 L66.50,46.33 L67.00,46.82 L67.50,47.37 L68.00,47.97 L68.50,48.62 L69.00,49.34 L69.50,50.14 L70.00,51.03 L70.50,52.00 L71.00,53.08 L71.50,54.26 L72.00,55.56 L72.50,56.99 L73.00,58.56 L73.50,60.25 L74.00,62.03 L74.50,63.85 L75.00,65.66 L75.50,67.42 L76.00,69.13 L76.50,70.78 L77.00,72.44 L77.50,74.16 L78.00,75.98 L78.50,77.93 L79.00,79.99 L79.50,82.12 L80.00,84.29 L80.50,86.47 L81.00,88.63 L81.50,90.78 L82.00,92.86 L82.50,94.87 L83.00,96.76 L83.50,98.54 L84.00,100.19 L84.50,101.76 L85.00,103.27 L85.50,104.77 L86.00,106.28 L86.50,107.80 L87.00,109.33 L87.50,110.88 L88.00,112.44 L88.50,114.02 L89.00,115.64 L89.50,117.29 L90.00,118.96 L90.50,120.62 L91.00,122.20 L91.50,123.67 L92.00,125.00 L92.50,126.18 L93.00,127.25 L93.50,128.22 L94.00,129.12 L94.50,129.93 L95.00,130.66 L95.50,131.28 L96.00,131.78 L96.50,132.14 L97.00,132.36 L97.50,132.45 L98.00,132.42 L98.50,132.29 L99.00,132.07 L99.50,131.78 L100.00,131.43 L100.50,131.01 L101.00,130.52 L101.50,129.93 L102.00,129.20 L102.50,128.32 L103.00,127.28 L103.50,126.10 L104.00,124.81 L104.50,123.46 L105.00,122.07 L105.50,120.65 L106.00,119.21 L106.50,117.72 L107.00,116.16 L107.50,114.50 L108.00,112.71 L108.50,110.77 L109.00,108.66 L109.50,106.38 L110.00,103.89 L110.50,101.17 L111.00,98.15 L111.50,94.88 L112.00,91.50 L112.50,88.21 L113.00,85.15 L113.50,82.39 L114.00,79.91 L114.50,77.65 L115.00,75.57 L115.50,73.62 L116.00,71.76 L116.50,69.94 L117.00,68.12 L117.50,66.30 L118.00,64.47 L118.50,62.68 L119.00,60.94 L119.50,59.26 L120.00,57.66 L120.50,56.14 L121.00,54.70 L121.50,53.34 L122.00,52.07 L122.50,50.92 L123.00,49.90 L123.50,49.02 L124.00,48.25 L124.50,47.59 L125.00,47.01 L125.50,46.49 L126.00,46.05 L126.50,45.70 L127.00,45.43 L127.50,45.27 L128.00,45.20 L128.50,45.23 L129.00,45.34 L129.50,45.53 L130.00,45.79 L130.50,46.11 L131.00,46.48 L131.50,46.91 L132.00,47.37 L132.50,47.88 L133.00,48.42 L133.50,49.01 L134.00,49.66 L134.50,50.39 L135.00,51.25 L135.50,52.23 L136.00,53.36 L136.50,54.62 L137.00,55.97 L137.50,57.40 L138.00,58.86 L138.50,60.34 L139.00,61.80 L139.50,63.26 L140.00,64.71 L140.50,66.16 L141.00,67.64 L141.50,69.15 L142.00,70.71 L142.50,72.36 L143.00,74.13 L143.50,76.02 L144.00,78.03 L144.50,80.12 L145.00,82.19 L145.50,84.18 L146.00,86.06 L146.50,87.85 L147.00,89.65 L147.50,91.57 L148.00,93.66 L148.50,95.88 L149.00,98.13 L149.50,100.29 L150.00,102.28 L150.50,104.10 L151.00,105.78 L151.50,107.36 L152.00,108.86 L152.50,110.33 L153.00,111.77 L153.50,113.19 L154.00,114.59 L154.50,115.97 L155.00,117.32 L155.50,118.63 L156.00,119.91 L156.50,121.14 L157.00,122.33 L157.50,123.49 L158.00,124.62 L158.50,125.74 L159.00,126.85 L159.50,127.94 L160.00,128.99 L160.50,129.97 L161.00,130.84 L161.50,131.56 L162.00,132.10 L162.50,132.45 L163.00,132.59 L163.50,132.54 L164.00,132.32 L164.50,131.95 L165.00,131.46 L165.50,130.86 L166.00,130.18 L166.50,129.44 L167.00,128.63 L167.50,127.77 L168.00,126.82 L168.50,125.78 L169.00,124.62 L169.50,123.32 L170.00,121.89 L170.50,120.31 L171.00,118.57 L171.50,116.66 L172.00,114.56 L172.50,112.30 L173.00,109.96 L173.50,107.68 L174.00,105.60 L174.50,103.73 L175.00,101.98 L175.50,100.14 L176.00,98.02 L176.50,95.49 L177.00,92.55 L177.50,89.28 L178.00,85.86 L178.50,82.47 L179.00,79.30 L179.50,76.45 L180.00,73.96 L180.50,71.80 L181.00,69.91 L181.50,68.20 L182.00,66.61 L182.50,65.12 L183.00,63.70 L183.50,62.33 L184.00,61.00 L184.50,59.73 L185.00,58.50 L185.50,57.34 L186.00,56.22 L186.50,55.16 L187.00,54.13 L187.50,53.11 L188.00,52.11 L188.50,51.13 L189.00,50.18 L189.50,49.27 L190.00,48.43 L190.50,47.68 L191.00,47.03 L191.50,46.51 L192.00,46.13 L192.50,45.89 L193.00,45.81 L193.50,45.88 L194.00,46.08 L194.50,46.40 L195.00,46.82 L195.50,47.34 L196.00,47.93 L196.50,48.58 L197.00,49.28 L197.50,50.01 L198.00,50.76 L198.50,51.53 L199.00,52.31 L199.50,53.10 L200.00,53.91 L200.50,54.76 L201.00,55.65 L201.50,56.59 L202.00,57.57 L202.50,58.60 L203.00,59.66 L203.50,60.77 L204.00,61.91 L204.50,63.08 L205.00,64.29 L205.50,65.53 L206.00,66.82 L206.50,68.17 L207.00,69.59 L207.50,71.10 L208.00,72.71 L208.50,74.43 L209.00,76.29 L209.50,78.29 L210.00,80.42 L210.50,82.66 L211.00,84.98 L211.50,87.34 L212.00,89.72 L212.50,92.05 L213.00,94.32 L213.50,96.49 L214.00,98.53 L214.50,100.45 L215.00,102.29 L215.50,104.08 L216.00,105.88 L216.50,107.69 L217.00,109.53 L217.50,111.35 L218.00,113.14 L218.50,114.90 L219.00,116.61 L219.50,118.27 L220.00,119.86 L220.50,121.36 L221.00,122.75 L221.50,124.02 L222.00,125.17 L222.50,126.22 L223.00,127.18 L223.50,128.07 L224.00,128.90 L224.50,129.67 L225.00,130.35 L225.50,130.93 L226.00,131.38 L226.50,131.71 L227.00,131.90 L227.50,131.96 L228.00,131.90 L228.50,131.74 L229.00,131.51 L229.50,131.20 L230.00,130.82 L230.50,130.39 L231.00,129.90 L231.50,129.34 L232.00,128.68 L232.50,127.89 L233.00,126.92 L233.50,125.77 L234.00,124.42 L234.50,122.90 L235.00,121.23 L235.50,119.42 L236.00,117.48 L236.50,115.41 L237.00,113.21 L237.50,110.91 L238.00,108.60 L238.50,106.35 L239.00,104.20 L239.50,102.11 L240.00,100.01 L240.50,97.82 L241.00,95.47 L241.50,92.96 L242.00,90.34 L242.50,87.64 L243.00,84.95 L243.50,82.32 L244.00,79.83 L244.50,77.51 L245.00,75.36 L245.50,73.34 L246.00,71.34 L246.50,69.27 L247.00,67.11 L247.50,64.93 L248.00,62.82 L248.50,60.88 L249.00,59.12 L249.50,57.52 L250.00,56.08 L250.50,54.76 L251.00,53.57 L251.50,52.51 L252.00,51.57 L252.50,50.75 L253.00,50.02 L253.50,49.37 L254.00,48.77 L254.50,48.22 L255.00,47.71 L255.50,47.24 L256.00,46.82 L256.50,46.45 L257.00,46.15 L257.50,45.92 L258.00,45.77 L258.50,45.71 L259.00,45.75 L259.50,45.90 L260.00,46.15 L260.50,46.51 L261.00,46.95 L261.50,47.48 L262.00,48.08 L262.50,48.73 L263.00,49.44 L263.50,50.19 L264.00,51.00 L264.50,51.90 L265.00,52.89 L265.50,54.00 L266.00,55.24 L266.50,56.57 L267.00,57.98 L267.50,59.44 L268.00,60.91 L268.50,62.39 L269.00,63.87 L269.50,65.37 L270.00,66.92 L270.50,68.54 L271.00,70.23 L271.50,71.96 L272.00,73.72 L272.50,75.48 L273.00,77.21 L273.50,78.93 L274.00,80.62 L274.50,82.29 L275.00,83.95 L275.50,85.60 L276.00,87.24 L276.50,88.89 L277.00,90.53 L277.50,92.19 L278.00,93.85 L278.50,95.52 L279.00,97.21 L279.50,98.92 L280.00,100.65 L280.50,102.39 L281.00,104.11 L281.50,105.80 L282.00,107.43 L282.50,108.99 L283.00,110.51 L283.50,112.00 L284.00,113.50 L284.50,115.03 L285.00,116.59 L285.50,118.19 L286.00,119.79 L286.50,121.36 L287.00,122.87 L287.50,124.29 L288.00,125.59 L288.50,126.77 L289.00,127.86 L289.50,128.85 L290.00,129.78 L290.50,130.62 L291.00,131.36 L291.50,131.97 L292.00,132.44 L292.50,132.74 L293.00,132.88 L293.50,132.87 L294.00,132.72 L294.50,132.46 L295.00,132.11 L295.50,131.67 L296.00,131.17 L296.50,130.59 L297.00,129.95 L297.50,129.22 L298.00,128.36 L298.50,127.35 L299.00,126.14 L299.50,124.72 L300.00,123.09 L300.50,121.26 L301.00,119.26 L301.50,117.08 L302.00,114.73 L302.50,112.26 L303.00,109.78 L303.50,107.45 L304.00,105.35 L304.50,103.48 L305.00,101.62 L305.50,99.48 L306.00,96.77 L306.50,93.36 L307.00,89.38 L307.50,85.17 L308.00,81.17 L308.50,77.71 L309.00,74.96 L309.50,72.82 L310.00,71.07 L310.50,69.49 L311.00,67.91 L311.50,66.28 L312.00,64.62 L312.50,62.99 L313.00,61.43 L313.50,59.94 L314.00,58.54 L314.50,57.24 L315.00,56.03 L315.50,54.94 L316.00,53.95 L316.50,53.06 L317.00,52.24 L317.50,51.49 L318.00,50.77 L318.50,50.08 L319.00,49.43 L319.50,48.81 L320.00,48.24 L320.50,47.71 L321.00,47.24 L321.50,46.84 L322.00,46.51 L322.50,46.25 L323.00,46.09 L323.50,46.02 L324.00,46.05 L324.50,46.19 L325.00,46.43 L325.50,46.77 L326.00,47.20 L326.50,47.72 L327.00,48.31 L327.50,48.96 L328.00,49.66 L328.50,50.40 L329.00,51.18 L329.50,52.00 L330.00,52.87 L330.50,53.82 L331.00,54.86 L331.50,56.01 L332.00,57.27 L332.50,58.63 L333.00,60.09 L333.50,61.65 L334.00,63.30 L334.50,65.02 L335.00,66.75 L335.50,68.42 L336.00,69.95 L336.50,71.33 L337.00,72.59 L337.50,73.84 L338.00,75.17 L338.50,76.64 L339.00,78.28 L339.50,80.08 L340.00,82.01 L340.50,84.05 L341.00,86.16 L341.50,88.32 L342.00,90.48 L342.50,92.63 L343.00,94.72 L343.50,96.74 L344.00,98.67 L344.50,100.53 L345.00,102.37 L345.50,104.24 L346.00,106.20 L346.50,108.23 L347.00,110.31 L347.50,112.34 L348.00,114.26 L348.50,116.05 L349.00,117.69 L349.50,119.21 L350.00,120.62 L350.50,121.93 L351.00,123.14 L351.50,124.26 L352.00,125.29 L352.50,126.26 L353.00,127.18 L353.50,128.05 L354.00,128.87 L354.50,129.63 L355.00,130.32 L355.50,130.90 L356.00,131.37 L356.50,131.70 L357.00,131.89 L357.50,131.96 L358.00,131.91 L358.50,131.76 L359.00,131.53 L359.50,131.23 L360.00,130.86 L360.50,130.42 L361.00,129.91 L361.50,129.30 L362.00,128.53 L362.50,127.55 L363.00,126.32 L363.50,124.81 L364.00,123.07 L364.50,121.16 L365.00,119.15 L365.50,117.11 L366.00,115.08 L366.50,113.04 L367.00,110.97 L367.50,108.85 L368.00,106.67 L368.50,104.46 L369.00,102.30 L369.50,100.26 L370.00,98.37 L370.50,96.59 L371.00,94.85 L371.50,93.06 L372.00,91.16 L372.50,89.08 L373.00,86.77 L373.50,84.22 L374.00,81.48 L374.50,78.66 L375.00,75.96 L375.50,73.51 L376.00,71.37 L376.50,69.50 L377.00,67.79 L377.50,66.10 L378.00,64.31 L378.50,62.38 L379.00,60.39 L379.50,58.47 L380.00,56.72 L380.50,55.20 L381.00,53.90 L381.50,52.77 L382.00,51.78 L382.50,50.92 L383.00,50.19 L383.50,49.59 L384.00,49.12 L384.50,48.75 L384.90,48.50" stroke="#000000" stroke-width="1.85" stroke-dasharray="5.5,2"/>
<path d="M35.50,116.00 L36.40,112.00 L37.60,106.00 L39.60,100.00 L40.60,92.00 L42.60,85.00 L44.70,74.50 L47.20,68.70 L50.00,58.70 L52.90,51.50 L55.80,45.80 L58.60,44.30 L62.90,42.90 L66.50,38.60 L68.70,39.30 L73.00,44.30 L76.50,50.00 L78.70,52.90 L80.10,58.70 L81.50,68.70 L82.40,74.50 L84.30,81.50 L87.20,95.80 L88.40,105.00 L89.90,112.90 L92.30,128.70 L94.40,139.00 L96.60,146.00 L99.30,161.50 L102.60,180.80 L104.80,195.00 L107.70,206.70 L110.60,218.50 L113.60,231.20 L117.50,235.10 L121.40,243.90 L125.30,245.50 L130.20,248.20 L137.00,246.80 L141.00,241.90 L144.90,232.20 L147.80,214.60 L150.70,200.90 L152.10,195.00 L154.10,180.80 L158.40,157.20 L161.60,140.00 L164.00,128.00 L166.50,118.60 L168.90,105.00 L170.10,100.00 L174.70,74.50 L177.20,68.00 L178.50,64.00 L182.20,54.40 L185.00,48.50 L187.50,44.80 L190.50,42.30 L193.50,40.90 L196.50,40.90 L199.50,42.50 L202.20,45.30 L205.00,50.50 L208.00,58.70 L210.30,66.00 L212.90,74.50 L217.90,100.00 L218.80,106.00 L220.80,117.20 L224.00,134.30 L225.50,142.00 L227.20,151.50 L229.30,161.10 L233.00,185.00 L238.00,210.00 L243.00,228.00 L247.20,237.60 L249.00,242.40 L251.30,244.70 L254.90,245.90 L258.50,249.50 L262.10,245.90 L265.70,246.50 L268.00,244.10 L270.40,241.20 L272.80,237.60 L278.00,222.00 L283.00,195.00 L286.00,175.00 L288.40,161.10 L290.50,147.20 L292.40,135.00 L294.50,125.00 L296.50,115.80 L298.00,105.00 L299.40,100.00 L305.10,74.50 L307.20,67.20 L312.20,52.90 L317.90,43.60 L325.10,41.50 L332.20,44.30 L338.00,57.20 L340.40,66.00 L342.90,74.50 L347.90,105.00 L352.00,124.00 L354.40,132.90 L355.80,141.50 L357.20,151.50 L358.70,160.10 L361.00,172.00 L363.60,183.50 L365.00,194.00 L366.60,203.00 L367.80,208.90 L369.60,216.00 L372.20,226.70 L375.80,235.60 L379.40,240.90 L383.80,243.60" stroke="#008000" stroke-width="1.85" stroke-dasharray="5,1.6,1.2,1.6"/>
</g>
<line x1="33.5" y1="4" x2="33.5" y2="252" stroke="#c8c8c8" stroke-width="1"/>
<line x1="34.5" y1="4" x2="34.5" y2="252" stroke="#808080" stroke-width="1"/>
<line x1="34" y1="251.5" x2="385" y2="251.5" stroke="#262626" stroke-width="1"/>
<line x1="34" y1="4.5" x2="385" y2="4.5" stroke="#008000" stroke-width="1"/>
<line x1="384.5" y1="4" x2="384.5" y2="252" stroke="#2e9a2e" stroke-width="1"/>
<line x1="72.5" y1="251" x2="72.5" y2="247" stroke="#404040"/><line x1="72.5" y1="5" x2="72.5" y2="8" stroke="#404040"/><line x1="111.5" y1="251" x2="111.5" y2="247" stroke="#404040"/><line x1="111.5" y1="5" x2="111.5" y2="8" stroke="#404040"/><line x1="150.5" y1="251" x2="150.5" y2="247" stroke="#404040"/><line x1="150.5" y1="5" x2="150.5" y2="8" stroke="#404040"/><line x1="189.5" y1="251" x2="189.5" y2="247" stroke="#404040"/><line x1="189.5" y1="5" x2="189.5" y2="8" stroke="#404040"/><line x1="228.5" y1="251" x2="228.5" y2="247" stroke="#404040"/><line x1="228.5" y1="5" x2="228.5" y2="8" stroke="#404040"/><line x1="267.5" y1="251" x2="267.5" y2="247" stroke="#404040"/><line x1="267.5" y1="5" x2="267.5" y2="8" stroke="#404040"/><line x1="306.5" y1="251" x2="306.5" y2="247" stroke="#404040"/><line x1="306.5" y1="5" x2="306.5" y2="8" stroke="#404040"/><line x1="345.5" y1="251" x2="345.5" y2="247" stroke="#404040"/><line x1="345.5" y1="5" x2="345.5" y2="8" stroke="#404040"/><line x1="384.5" y1="251" x2="384.5" y2="247" stroke="#404040"/><line x1="384.5" y1="5" x2="384.5" y2="8" stroke="#404040"/><line x1="35" y1="39.5" x2="37.5" y2="39.5" stroke="#0000ff"/><line x1="384" y1="39.5" x2="380.5" y2="39.5" stroke="#008000"/><line x1="35" y1="74.5" x2="37.5" y2="74.5" stroke="#0000ff"/><line x1="384" y1="74.5" x2="380.5" y2="74.5" stroke="#008000"/><line x1="35" y1="109.5" x2="37.5" y2="109.5" stroke="#0000ff"/><line x1="384" y1="109.5" x2="380.5" y2="109.5" stroke="#008000"/><line x1="35" y1="145.5" x2="37.5" y2="145.5" stroke="#0000ff"/><line x1="384" y1="145.5" x2="380.5" y2="145.5" stroke="#008000"/><line x1="35" y1="180.5" x2="37.5" y2="180.5" stroke="#0000ff"/><line x1="384" y1="180.5" x2="380.5" y2="180.5" stroke="#008000"/><line x1="35" y1="215.5" x2="37.5" y2="215.5" stroke="#0000ff"/><line x1="384" y1="215.5" x2="380.5" y2="215.5" stroke="#008000"/>
<text transform="translate(31.6,7.9) scale(0.94,1)" font-size="10.2" fill="#0000ff" stroke="#0000ff" stroke-width="0.3" text-anchor="end">80</text><text transform="translate(31.6,42.9) scale(0.94,1)" font-size="10.2" fill="#0000ff" stroke="#0000ff" stroke-width="0.3" text-anchor="end">60</text><text transform="translate(31.6,77.9) scale(0.94,1)" font-size="10.2" fill="#0000ff" stroke="#0000ff" stroke-width="0.3" text-anchor="end">40</text><text transform="translate(31.6,112.9) scale(0.94,1)" font-size="10.2" fill="#0000ff" stroke="#0000ff" stroke-width="0.3" text-anchor="end">20</text><text transform="translate(31.6,148.9) scale(0.94,1)" font-size="10.2" fill="#0000ff" stroke="#0000ff" stroke-width="0.3" text-anchor="end">0</text><text transform="translate(31.6,183.9) scale(0.94,1)" font-size="10.2" fill="#0000ff" stroke="#0000ff" stroke-width="0.3" text-anchor="end">-20</text><text transform="translate(31.6,218.9) scale(0.94,1)" font-size="10.2" fill="#0000ff" stroke="#0000ff" stroke-width="0.3" text-anchor="end">-40</text><text transform="translate(31.6,254.9) scale(0.94,1)" font-size="10.2" fill="#0000ff" stroke="#0000ff" stroke-width="0.3" text-anchor="end">-60</text><text transform="translate(387.2,7.9) scale(0.94,1)" font-size="10.2" fill="#008000" stroke="#008000" stroke-width="0.3">120</text><text transform="translate(387.2,42.9) scale(0.94,1)" font-size="10.2" fill="#008000" stroke="#008000" stroke-width="0.3">90</text><text transform="translate(387.2,77.9) scale(0.94,1)" font-size="10.2" fill="#008000" stroke="#008000" stroke-width="0.3">60</text><text transform="translate(387.2,112.9) scale(0.94,1)" font-size="10.2" fill="#008000" stroke="#008000" stroke-width="0.3">30</text><text transform="translate(387.2,148.9) scale(0.94,1)" font-size="10.2" fill="#008000" stroke="#008000" stroke-width="0.3">0</text><text transform="translate(387.2,183.9) scale(0.94,1)" font-size="10.2" fill="#008000" stroke="#008000" stroke-width="0.3">-30</text><text transform="translate(387.2,218.9) scale(0.94,1)" font-size="10.2" fill="#008000" stroke="#008000" stroke-width="0.3">-60</text><text transform="translate(387.2,254.9) scale(0.94,1)" font-size="10.2" fill="#008000" stroke="#008000" stroke-width="0.3">-90</text><text transform="translate(34.5,262.5) scale(0.93,1)" font-size="10.3" fill="#000" stroke="#000" stroke-width="0.3" text-anchor="middle">0</text><text transform="translate(72.5,262.5) scale(0.93,1)" font-size="10.3" fill="#000" stroke="#000" stroke-width="0.3" text-anchor="middle">0.1</text><text transform="translate(111.5,262.5) scale(0.93,1)" font-size="10.3" fill="#000" stroke="#000" stroke-width="0.3" text-anchor="middle">0.2</text><text transform="translate(150.5,262.5) scale(0.93,1)" font-size="10.3" fill="#000" stroke="#000" stroke-width="0.3" text-anchor="middle">0.3</text><text transform="translate(189.5,262.5) scale(0.93,1)" font-size="10.3" fill="#000" stroke="#000" stroke-width="0.3" text-anchor="middle">0.4</text><text transform="translate(228.5,262.5) scale(0.93,1)" font-size="10.3" fill="#000" stroke="#000" stroke-width="0.3" text-anchor="middle">0.5</text><text transform="translate(267.5,262.5) scale(0.93,1)" font-size="10.3" fill="#000" stroke="#000" stroke-width="0.3" text-anchor="middle">0.6</text><text transform="translate(306.5,262.5) scale(0.93,1)" font-size="10.3" fill="#000" stroke="#000" stroke-width="0.3" text-anchor="middle">0.7</text><text transform="translate(345.5,262.5) scale(0.93,1)" font-size="10.3" fill="#000" stroke="#000" stroke-width="0.3" text-anchor="middle">0.8</text><text transform="translate(384.5,262.5) scale(0.93,1)" font-size="10.3" fill="#000" stroke="#000" stroke-width="0.3" text-anchor="middle">0.9</text><text x="211.7" y="277.8" font-size="12" fill="#000" stroke="#000" stroke-width="0.35" text-anchor="middle">time (s)</text><text transform="translate(9,127.5) rotate(-90)" x="0" y="0" font-size="12" fill="#0000ff" stroke="#0000ff" stroke-width="0.35" text-anchor="middle">voltage (V)</text><text transform="translate(416.6,127.7) rotate(-90)" x="0" y="0" font-size="12.2" fill="#008000" stroke="#008000" stroke-width="0.35" text-anchor="middle">velocity (mm/s)</text>
<rect x="165.5" y="161.5" width="198" height="76" fill="#fff" stroke="#404040" stroke-width="1"/><line x1="363.5" y1="162" x2="363.5" y2="237" stroke="#7a7a7a" stroke-width="1"/><line x1="171" y1="169.7" x2="201" y2="169.7" stroke="#008000" stroke-width="1.5" stroke-dasharray="5,1.6,1.2,1.6"/><text x="204.6" y="173.3" font-size="9.8" fill="#000" stroke="#000" stroke-width="0.25">input velocity</text><line x1="171" y1="184.0" x2="201" y2="184.0" stroke="#0000ff" stroke-width="1.6"/><text x="204.6" y="187.6" font-size="9.8" fill="#000" stroke="#000" stroke-width="0.25">Voltage on 30 <tspan font-family="Liberation Serif" font-size="10.5" dy="0.6">Ω</tspan><tspan dy="-0.6" dx="0.6"> from experiments</tspan></text><line x1="171" y1="198.8" x2="201" y2="198.8" stroke="#ff0000" stroke-width="1.6" stroke-dasharray="4.6,1.4"/><text x="204.6" y="202.4" font-size="9.8" fill="#000" stroke="#000" stroke-width="0.25">Voltage on 100 <tspan font-family="Liberation Serif" font-size="10.5" dy="0.6">Ω</tspan><tspan dy="-0.6" dx="0.6"> from experiments</tspan></text><line x1="171" y1="213.4" x2="201" y2="213.4" stroke="#00ffff" stroke-width="1.6" stroke-dasharray="1.6,1.4"/><text x="204.6" y="217.0" font-size="9.8" fill="#000" stroke="#000" stroke-width="0.25">Voltage on 100<tspan font-family="Liberation Serif" font-size="10.5" dy="0.6">Ω</tspan><tspan dy="-0.6" dx="0.6"> from simulations</tspan></text><line x1="171" y1="227.5" x2="201" y2="227.5" stroke="#000" stroke-width="1.5" stroke-dasharray="4.6,1.4"/><text x="204.6" y="231.1" font-size="9.8" fill="#000" stroke="#000" stroke-width="0.25">Voltage on 30 <tspan font-family="Liberation Serif" font-size="10.5" dy="0.6">Ω</tspan><tspan dy="-0.6" dx="0.6"> from simulations</tspan></text>
</svg></body></html>
